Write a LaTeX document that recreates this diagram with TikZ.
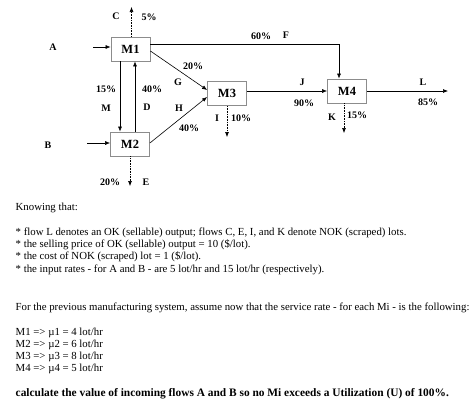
\documentclass[tikz,border=0pt]{standalone}
\usepackage{fontspec}
\setmainfont{Liberation Serif}
\usetikzlibrary{arrows.meta}
\begin{document}
\begin{tikzpicture}[x=1pt,y=-1pt,
  machine/.style={draw=black!45, thick, minimum width=39pt, minimum height=24pt,
    inner sep=0pt, font=\fontsize{12.5}{12.5}\selectfont\bfseries},
  flow/.style={-{Latex[length=5pt,width=4pt]}, semithick},
  scrap/.style={-{Latex[length=5pt,width=4pt]}, semithick, densely dotted},
  lbl/.style={font=\fontsize{10}{10}\selectfont\bfseries, inner sep=0pt},
  txt/.style={anchor=base west, inner sep=0pt, font=\fontsize{10.8}{12}\selectfont}]
\useasboundingbox (0,0) rectangle (474,408);
% Machines
\node[machine] (M1) at (130.5,49) {M1};
\node[machine] (M2) at (130,144) {M2};
\node[machine] (M3) at (227,93.5) {M3};
\node[machine] (M4) at (347,91) {M4};
% Free ends of the flows
\coordinate (Ain) at (93,47);
\coordinate (Bin) at (87,143);
\coordinate (Cout) at (131.5,7);
\coordinate (Eout) at (130,186);
\coordinate (Iout) at (227,137);
\coordinate (Kout) at (344,133);
\coordinate (Lout) at (448,91);
% Inputs A and B
\draw[flow] (Ain) -- (Ain -| M1.west);
\draw[flow] (Bin) -- (Bin -| M2.west);
\node[lbl] (A) at (53,47) {A};
\node[lbl] (B) at (48,145) {B};
% M1 <-> M2
\draw[flow] ([xshift=-10.5pt]M1.south) -- ([xshift=-10pt]M2.north);
\draw[flow] ([xshift=5pt]M2.north) -- ([xshift=4.5pt]M1.south);
\node[lbl] (pM) at (106,89) {15\%};
\node[lbl] (M) at (106,108) {M};
\node[lbl] (pD) at (152,89) {40\%};
\node[lbl] (D) at (147,107) {D};
% Flow F from M1 to M4
\draw[flow] ([yshift=5pt]M1.east) -| ([xshift=-8pt]M4.north);
\node[lbl] (pF) at (261,36) {60\%};
\node[lbl] (F) at (286,35) {F};
% Flows G and H into M3
\draw[flow] ([yshift=-2pt]M1.east) -- ([yshift=3.5pt]M3.west);
\draw[flow] ([yshift=1pt]M2.east) -- ([yshift=-3.5pt]M3.west);
\node[lbl] (pG) at (193,66) {20\%};
\node[lbl] (G) at (178,82) {G};
\node[lbl] (H) at (179,108) {H};
\node[lbl] (pH) at (189,128) {40\%};
% Flow J and output L
\draw[flow] (M3.east |- M4) -- (M4.west);
\draw[flow] (M4.east) -- (Lout);
\node[lbl] (J) at (302,82) {J};
\node[lbl] (pJ) at (304,103) {90\%};
\node[lbl] (L) at (423,82) {L};
\node[lbl] (pL) at (428,102) {85\%};
% Scrap flows C, E, I, K
\draw[scrap] ([xshift=1pt]M1.north) -- (Cout);
\draw[scrap] (M2.south) -- (Eout);
\draw[scrap] (M3.south) -- (Iout);
\draw[scrap] ([xshift=-3pt]M4.south) -- (Kout);
\node[lbl] (C) at (116,16) {C};
\node[lbl] (pC) at (149,17) {5\%};
\node[lbl] (pE) at (110,182) {20\%};
\node[lbl] (E) at (146,182) {E};
\node[lbl] (I) at (217,118) {I};
\node[lbl] (pI) at (241,118) {10\%};
\node[lbl] (K) at (332,117) {K};
\node[lbl] (pK) at (357,115) {15\%};
% Statement
\node[txt] (t1) at (15.5,210) {Knowing that:};
\node[txt] (t2) at (15.5,235.5) {* flow L denotes an OK (sellable) output; flows C, E, I, and K denote NOK (scraped) lots.};
\node[txt] (t3) at (15.5,247.5) {* the selling price of OK (sellable) output = 10 (\$/lot).};
\node[txt] (t4) at (15.5,259.5) {* the cost of NOK (scraped) lot = 1 (\$/lot).};
\node[txt] (t5) at (15.5,272) {* the input rates - for A and B - are 5 lot/hr and 15 lot/hr (respectively).};
\node[txt] (t6) at (15.5,310) {For the previous manufacturing system, assume now that the service rate - for each Mi - is the following:};
\node[txt] (t7) at (15.5,335) {M1 => µ1 = 4 lot/hr};
\node[txt] (t8) at (15.5,347) {M2 => µ2 = 6 lot/hr};
\node[txt] (t9) at (15.5,359) {M3 => µ3 = 8 lot/hr};
\node[txt] (t10) at (15.5,371) {M4 => µ4 = 5 lot/hr};
\node[txt, font=\fontsize{11.4}{12}\selectfont\bfseries] (t11) at (15.5,396) {calculate the value of incoming flows A and B so no Mi exceeds a Utilization (U) of 100\%.};
\end{tikzpicture}
\end{document}
